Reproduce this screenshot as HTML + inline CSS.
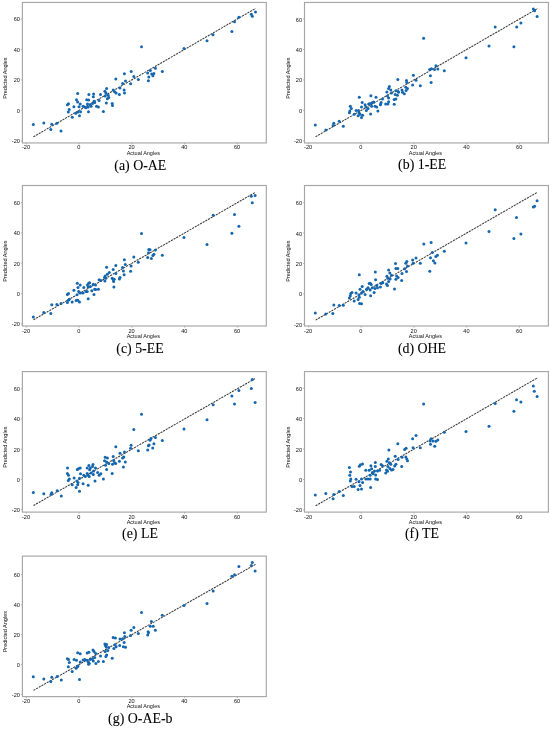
<!DOCTYPE html><html><head><meta charset="utf-8"><style>html,body{margin:0;padding:0;background:#fff;}svg{display:block;}</style></head><body>
<svg width="550" height="729" viewBox="0 0 550 729">
<rect width="550" height="729" fill="#fff"/>
<g><line x1="33.48" y1="136.76" x2="255.56" y2="8.43" stroke="#3a3a3a" stroke-width="1.05" stroke-dasharray="2.15 0.9"/><g fill="#1466ae"><circle cx="33.3" cy="124.5" r="1.5"/><circle cx="43.8" cy="122.9" r="1.5"/><circle cx="51.8" cy="124.2" r="1.5"/><circle cx="50.8" cy="129.5" r="1.5"/><circle cx="56.9" cy="123.3" r="1.5"/><circle cx="61.0" cy="131.0" r="1.5"/><circle cx="72.3" cy="117.3" r="1.5"/><circle cx="68.3" cy="112.1" r="1.5"/><circle cx="69.2" cy="109.6" r="1.5"/><circle cx="67.4" cy="104.8" r="1.5"/><circle cx="68.5" cy="103.8" r="1.5"/><circle cx="73.9" cy="106.7" r="1.5"/><circle cx="77.7" cy="93.5" r="1.5"/><circle cx="76.5" cy="99.7" r="1.5"/><circle cx="77.6" cy="101.9" r="1.5"/><circle cx="80.2" cy="104.1" r="1.5"/><circle cx="79.0" cy="106.7" r="1.5"/><circle cx="75.8" cy="113.3" r="1.5"/><circle cx="78.0" cy="112.1" r="1.5"/><circle cx="79.5" cy="115.7" r="1.5"/><circle cx="80.6" cy="111.8" r="1.5"/><circle cx="83.1" cy="106.3" r="1.5"/><circle cx="84.8" cy="107.0" r="1.5"/><circle cx="86.7" cy="99.7" r="1.5"/><circle cx="88.9" cy="94.6" r="1.5"/><circle cx="88.6" cy="100.0" r="1.5"/><circle cx="87.5" cy="104.1" r="1.5"/><circle cx="88.2" cy="107.0" r="1.5"/><circle cx="90.1" cy="104.8" r="1.5"/><circle cx="91.1" cy="106.3" r="1.5"/><circle cx="88.5" cy="111.7" r="1.5"/><circle cx="93.6" cy="93.9" r="1.5"/><circle cx="93.3" cy="96.8" r="1.5"/><circle cx="94.0" cy="101.2" r="1.5"/><circle cx="92.5" cy="103.4" r="1.5"/><circle cx="94.7" cy="102.6" r="1.5"/><circle cx="96.5" cy="106.3" r="1.5"/><circle cx="98.4" cy="107.0" r="1.5"/><circle cx="99.1" cy="100.5" r="1.5"/><circle cx="100.5" cy="94.6" r="1.5"/><circle cx="86.0" cy="107.7" r="1.5"/><circle cx="141.5" cy="46.7" r="1.5"/><circle cx="162.3" cy="71.6" r="1.5"/><circle cx="155.4" cy="68.3" r="1.5"/><circle cx="150.3" cy="70.5" r="1.5"/><circle cx="147.7" cy="72.9" r="1.5"/><circle cx="151.7" cy="74.1" r="1.5"/><circle cx="153.9" cy="73.4" r="1.5"/><circle cx="152.9" cy="75.8" r="1.5"/><circle cx="148.8" cy="77.0" r="1.5"/><circle cx="148.4" cy="80.8" r="1.5"/><circle cx="138.3" cy="79.5" r="1.5"/><circle cx="133.8" cy="76.6" r="1.5"/><circle cx="131.2" cy="71.6" r="1.5"/><circle cx="124.4" cy="73.7" r="1.5"/><circle cx="115.8" cy="78.9" r="1.5"/><circle cx="125.5" cy="81.1" r="1.5"/><circle cx="122.6" cy="83.5" r="1.5"/><circle cx="130.6" cy="83.8" r="1.5"/><circle cx="120.0" cy="87.9" r="1.5"/><circle cx="124.1" cy="90.1" r="1.5"/><circle cx="124.5" cy="93.0" r="1.5"/><circle cx="119.4" cy="94.5" r="1.5"/><circle cx="113.2" cy="90.1" r="1.5"/><circle cx="114.6" cy="91.8" r="1.5"/><circle cx="116.1" cy="93.0" r="1.5"/><circle cx="106.6" cy="88.6" r="1.5"/><circle cx="104.9" cy="91.3" r="1.5"/><circle cx="105.9" cy="93.0" r="1.5"/><circle cx="105.2" cy="95.9" r="1.5"/><circle cx="108.1" cy="95.2" r="1.5"/><circle cx="108.8" cy="97.4" r="1.5"/><circle cx="107.4" cy="98.8" r="1.5"/><circle cx="106.3" cy="102.9" r="1.5"/><circle cx="112.2" cy="103.6" r="1.5"/><circle cx="103.4" cy="111.5" r="1.5"/><circle cx="112.5" cy="105.4" r="1.5"/><circle cx="184.0" cy="48.4" r="1.5"/><circle cx="207.0" cy="40.7" r="1.5"/><circle cx="213.0" cy="34.8" r="1.5"/><circle cx="231.9" cy="31.6" r="1.5"/><circle cx="234.5" cy="21.8" r="1.5"/><circle cx="238.9" cy="17.3" r="1.5"/><circle cx="251.3" cy="14.3" r="1.5"/><circle cx="252.3" cy="16.3" r="1.5"/><circle cx="255.5" cy="12.0" r="1.5"/></g><rect x="22.4" y="2.45" width="243.9" height="140.5" fill="none" stroke="#a6a6a6" stroke-width="1.15"/><path d="M26.36 142.95v1.5M20.90 140.87h1.5M79.11 142.95v1.5M20.90 110.39h1.5M131.86 142.95v1.5M20.90 79.91h1.5M184.61 142.95v1.5M20.90 49.43h1.5M237.36 142.95v1.5M20.90 18.95h1.5" stroke="#a6a6a6" stroke-width="0.8"/><g font-family="Liberation Sans, sans-serif" font-size="5.6" fill="#111"><text x="26.06" y="149.45" text-anchor="middle">-20</text><text x="19.90" y="143.37" text-anchor="end">-20</text><text x="78.81" y="149.45" text-anchor="middle">0</text><text x="19.90" y="112.89" text-anchor="end">0</text><text x="131.56" y="149.45" text-anchor="middle">20</text><text x="19.90" y="82.41" text-anchor="end">20</text><text x="184.31" y="149.45" text-anchor="middle">40</text><text x="19.90" y="51.93" text-anchor="end">40</text><text x="237.06" y="149.45" text-anchor="middle">60</text><text x="19.90" y="21.45" text-anchor="end">60</text></g><text x="143.30" y="154.55" text-anchor="middle" font-family="Liberation Sans, sans-serif" font-size="5.5" fill="#111">Actual Angles</text><text transform="translate(7.40 78.05) rotate(-90)" x="0" y="0" text-anchor="middle" font-family="Liberation Sans, sans-serif" font-size="5.5" fill="#111">Predicted Angles</text><text x="140.30" y="169.50" text-anchor="middle" font-family="Liberation Serif, serif" font-size="13.9" fill="#000" stroke="#000" stroke-width="0.08">(a) O-AE</text></g>
<g><line x1="315.58" y1="136.74" x2="537.65" y2="8.50" stroke="#3a3a3a" stroke-width="1.05" stroke-dasharray="2.15 0.9"/><g fill="#1466ae"><circle cx="315.3" cy="124.9" r="1.5"/><circle cx="325.8" cy="130.0" r="1.5"/><circle cx="333.8" cy="123.3" r="1.5"/><circle cx="333.1" cy="125.6" r="1.5"/><circle cx="339.2" cy="121.3" r="1.5"/><circle cx="343.3" cy="126.3" r="1.5"/><circle cx="350.3" cy="106.3" r="1.5"/><circle cx="351.3" cy="108.5" r="1.5"/><circle cx="349.8" cy="110.9" r="1.5"/><circle cx="349.4" cy="112.8" r="1.5"/><circle cx="354.2" cy="114.3" r="1.5"/><circle cx="356.1" cy="110.6" r="1.5"/><circle cx="358.5" cy="110.6" r="1.5"/><circle cx="359.3" cy="97.3" r="1.5"/><circle cx="362.2" cy="102.6" r="1.5"/><circle cx="361.5" cy="107.0" r="1.5"/><circle cx="359.0" cy="112.8" r="1.5"/><circle cx="360.0" cy="114.3" r="1.5"/><circle cx="358.1" cy="115.7" r="1.5"/><circle cx="362.6" cy="115.3" r="1.5"/><circle cx="361.5" cy="117.6" r="1.5"/><circle cx="365.1" cy="104.8" r="1.5"/><circle cx="365.8" cy="107.0" r="1.5"/><circle cx="366.3" cy="110.6" r="1.5"/><circle cx="368.0" cy="108.5" r="1.5"/><circle cx="368.7" cy="104.1" r="1.5"/><circle cx="370.2" cy="103.4" r="1.5"/><circle cx="370.9" cy="95.8" r="1.5"/><circle cx="370.6" cy="114.0" r="1.5"/><circle cx="371.6" cy="106.3" r="1.5"/><circle cx="372.4" cy="102.6" r="1.5"/><circle cx="373.8" cy="101.9" r="1.5"/><circle cx="375.0" cy="106.3" r="1.5"/><circle cx="376.0" cy="97.3" r="1.5"/><circle cx="376.7" cy="107.0" r="1.5"/><circle cx="377.9" cy="110.9" r="1.5"/><circle cx="380.4" cy="104.8" r="1.5"/><circle cx="381.1" cy="102.6" r="1.5"/><circle cx="382.5" cy="99.0" r="1.5"/><circle cx="444.3" cy="70.7" r="1.5"/><circle cx="435.9" cy="65.8" r="1.5"/><circle cx="437.8" cy="69.0" r="1.5"/><circle cx="434.5" cy="69.4" r="1.5"/><circle cx="431.5" cy="68.7" r="1.5"/><circle cx="429.7" cy="69.4" r="1.5"/><circle cx="430.4" cy="75.8" r="1.5"/><circle cx="431.1" cy="82.5" r="1.5"/><circle cx="420.3" cy="85.7" r="1.5"/><circle cx="413.4" cy="75.3" r="1.5"/><circle cx="416.0" cy="80.2" r="1.5"/><circle cx="412.6" cy="84.9" r="1.5"/><circle cx="397.8" cy="79.5" r="1.5"/><circle cx="406.5" cy="80.6" r="1.5"/><circle cx="406.8" cy="82.4" r="1.5"/><circle cx="405.8" cy="87.2" r="1.5"/><circle cx="407.5" cy="88.6" r="1.5"/><circle cx="406.1" cy="90.4" r="1.5"/><circle cx="402.0" cy="90.1" r="1.5"/><circle cx="402.5" cy="92.3" r="1.5"/><circle cx="404.3" cy="93.7" r="1.5"/><circle cx="398.1" cy="91.5" r="1.5"/><circle cx="395.9" cy="90.8" r="1.5"/><circle cx="395.2" cy="94.5" r="1.5"/><circle cx="397.4" cy="95.2" r="1.5"/><circle cx="389.4" cy="86.5" r="1.5"/><circle cx="388.6" cy="88.6" r="1.5"/><circle cx="390.8" cy="90.1" r="1.5"/><circle cx="386.9" cy="92.0" r="1.5"/><circle cx="391.5" cy="93.0" r="1.5"/><circle cx="387.5" cy="95.9" r="1.5"/><circle cx="388.6" cy="98.1" r="1.5"/><circle cx="394.2" cy="99.5" r="1.5"/><circle cx="395.9" cy="99.1" r="1.5"/><circle cx="388.6" cy="101.7" r="1.5"/><circle cx="385.7" cy="103.9" r="1.5"/><circle cx="394.2" cy="104.3" r="1.5"/><circle cx="380.6" cy="103.9" r="1.5"/><circle cx="387.9" cy="103.9" r="1.5"/><circle cx="398.5" cy="92.3" r="1.5"/><circle cx="466.0" cy="57.7" r="1.5"/><circle cx="489.0" cy="46.0" r="1.5"/><circle cx="495.2" cy="27.1" r="1.5"/><circle cx="513.9" cy="46.7" r="1.5"/><circle cx="516.7" cy="26.9" r="1.5"/><circle cx="520.9" cy="23.1" r="1.5"/><circle cx="533.3" cy="9.0" r="1.5"/><circle cx="534.6" cy="10.7" r="1.5"/><circle cx="537.1" cy="16.5" r="1.5"/><circle cx="423.6" cy="38.3" r="1.5"/></g><rect x="304.5" y="2.45" width="243.9" height="140.5" fill="none" stroke="#a6a6a6" stroke-width="1.15"/><path d="M308.46 142.95v1.5M303.00 140.85h1.5M361.21 142.95v1.5M303.00 110.39h1.5M413.96 142.95v1.5M303.00 79.93h1.5M466.71 142.95v1.5M303.00 49.47h1.5M519.46 142.95v1.5M303.00 19.01h1.5" stroke="#a6a6a6" stroke-width="0.8"/><g font-family="Liberation Sans, sans-serif" font-size="5.6" fill="#111"><text x="308.16" y="149.45" text-anchor="middle">-20</text><text x="302.00" y="143.35" text-anchor="end">-20</text><text x="360.91" y="149.45" text-anchor="middle">0</text><text x="302.00" y="112.89" text-anchor="end">0</text><text x="413.66" y="149.45" text-anchor="middle">20</text><text x="302.00" y="82.43" text-anchor="end">20</text><text x="466.41" y="149.45" text-anchor="middle">40</text><text x="302.00" y="51.97" text-anchor="end">40</text><text x="519.16" y="149.45" text-anchor="middle">60</text><text x="302.00" y="21.51" text-anchor="end">60</text></g><text x="425.40" y="154.55" text-anchor="middle" font-family="Liberation Sans, sans-serif" font-size="5.5" fill="#111">Actual Angles</text><text transform="translate(289.50 78.05) rotate(-90)" x="0" y="0" text-anchor="middle" font-family="Liberation Sans, sans-serif" font-size="5.5" fill="#111">Predicted Angles</text><text x="422.20" y="169.30" text-anchor="middle" font-family="Liberation Serif, serif" font-size="13.9" fill="#000" stroke="#000" stroke-width="0.08">(b) 1-EE</text></g>
<g><line x1="33.48" y1="319.83" x2="255.56" y2="192.18" stroke="#3a3a3a" stroke-width="1.05" stroke-dasharray="2.15 0.9"/><g fill="#1466ae"><circle cx="33.3" cy="316.9" r="1.5"/><circle cx="43.8" cy="312.5" r="1.5"/><circle cx="50.8" cy="313.6" r="1.5"/><circle cx="51.8" cy="304.8" r="1.5"/><circle cx="56.9" cy="304.5" r="1.5"/><circle cx="61.0" cy="303.4" r="1.5"/><circle cx="67.4" cy="294.4" r="1.5"/><circle cx="68.5" cy="293.6" r="1.5"/><circle cx="68.3" cy="300.2" r="1.5"/><circle cx="67.4" cy="302.4" r="1.5"/><circle cx="69.3" cy="299.2" r="1.5"/><circle cx="72.2" cy="302.1" r="1.5"/><circle cx="73.9" cy="290.3" r="1.5"/><circle cx="77.3" cy="283.2" r="1.5"/><circle cx="78.0" cy="287.5" r="1.5"/><circle cx="77.0" cy="294.8" r="1.5"/><circle cx="76.1" cy="300.6" r="1.5"/><circle cx="77.7" cy="300.2" r="1.5"/><circle cx="79.5" cy="302.1" r="1.5"/><circle cx="80.2" cy="284.9" r="1.5"/><circle cx="78.7" cy="291.5" r="1.5"/><circle cx="80.5" cy="292.9" r="1.5"/><circle cx="83.8" cy="287.5" r="1.5"/><circle cx="83.1" cy="292.9" r="1.5"/><circle cx="86.0" cy="291.5" r="1.5"/><circle cx="87.2" cy="291.5" r="1.5"/><circle cx="87.5" cy="284.9" r="1.5"/><circle cx="88.6" cy="283.2" r="1.5"/><circle cx="89.6" cy="282.7" r="1.5"/><circle cx="88.2" cy="287.1" r="1.5"/><circle cx="90.4" cy="286.4" r="1.5"/><circle cx="88.2" cy="298.7" r="1.5"/><circle cx="91.8" cy="290.7" r="1.5"/><circle cx="93.3" cy="284.2" r="1.5"/><circle cx="94.0" cy="294.4" r="1.5"/><circle cx="94.7" cy="289.3" r="1.5"/><circle cx="95.5" cy="284.9" r="1.5"/><circle cx="98.4" cy="289.3" r="1.5"/><circle cx="99.1" cy="279.8" r="1.5"/><circle cx="100.8" cy="280.5" r="1.5"/><circle cx="141.5" cy="233.4" r="1.5"/><circle cx="162.3" cy="255.3" r="1.5"/><circle cx="155.4" cy="250.1" r="1.5"/><circle cx="148.8" cy="249.5" r="1.5"/><circle cx="150.0" cy="249.8" r="1.5"/><circle cx="148.5" cy="252.7" r="1.5"/><circle cx="153.9" cy="254.2" r="1.5"/><circle cx="152.9" cy="255.6" r="1.5"/><circle cx="147.7" cy="257.5" r="1.5"/><circle cx="151.4" cy="258.5" r="1.5"/><circle cx="138.3" cy="262.2" r="1.5"/><circle cx="133.8" cy="257.1" r="1.5"/><circle cx="124.4" cy="259.7" r="1.5"/><circle cx="125.3" cy="264.4" r="1.5"/><circle cx="131.1" cy="266.1" r="1.5"/><circle cx="130.6" cy="271.3" r="1.5"/><circle cx="115.8" cy="265.4" r="1.5"/><circle cx="106.6" cy="267.3" r="1.5"/><circle cx="113.2" cy="269.5" r="1.5"/><circle cx="122.6" cy="267.6" r="1.5"/><circle cx="123.4" cy="270.9" r="1.5"/><circle cx="124.1" cy="274.8" r="1.5"/><circle cx="115.8" cy="273.4" r="1.5"/><circle cx="120.0" cy="277.5" r="1.5"/><circle cx="119.4" cy="278.9" r="1.5"/><circle cx="109.3" cy="272.4" r="1.5"/><circle cx="107.4" cy="274.3" r="1.5"/><circle cx="105.2" cy="276.0" r="1.5"/><circle cx="104.5" cy="277.5" r="1.5"/><circle cx="105.9" cy="278.2" r="1.5"/><circle cx="112.2" cy="278.2" r="1.5"/><circle cx="113.2" cy="279.6" r="1.5"/><circle cx="114.2" cy="279.2" r="1.5"/><circle cx="113.6" cy="281.5" r="1.5"/><circle cx="104.9" cy="281.1" r="1.5"/><circle cx="113.9" cy="286.9" r="1.5"/><circle cx="95.7" cy="289.5" r="1.5"/><circle cx="184.0" cy="237.6" r="1.5"/><circle cx="207.0" cy="244.4" r="1.5"/><circle cx="213.2" cy="215.2" r="1.5"/><circle cx="231.9" cy="233.3" r="1.5"/><circle cx="234.5" cy="214.4" r="1.5"/><circle cx="238.9" cy="226.3" r="1.5"/><circle cx="251.3" cy="196.3" r="1.5"/><circle cx="252.3" cy="202.7" r="1.5"/><circle cx="255.1" cy="195.6" r="1.5"/></g><rect x="22.4" y="185.5" width="243.9" height="140.5" fill="none" stroke="#a6a6a6" stroke-width="1.15"/><path d="M26.36 326.00v1.5M20.90 323.92h1.5M79.11 326.00v1.5M20.90 293.60h1.5M131.86 326.00v1.5M20.90 263.28h1.5M184.61 326.00v1.5M20.90 232.96h1.5M237.36 326.00v1.5M20.90 202.64h1.5" stroke="#a6a6a6" stroke-width="0.8"/><g font-family="Liberation Sans, sans-serif" font-size="5.6" fill="#111"><text x="26.06" y="332.50" text-anchor="middle">-20</text><text x="19.90" y="326.42" text-anchor="end">-20</text><text x="78.81" y="332.50" text-anchor="middle">0</text><text x="19.90" y="296.10" text-anchor="end">0</text><text x="131.56" y="332.50" text-anchor="middle">20</text><text x="19.90" y="265.78" text-anchor="end">20</text><text x="184.31" y="332.50" text-anchor="middle">40</text><text x="19.90" y="235.46" text-anchor="end">40</text><text x="237.06" y="332.50" text-anchor="middle">60</text><text x="19.90" y="205.14" text-anchor="end">60</text></g><text x="143.30" y="337.60" text-anchor="middle" font-family="Liberation Sans, sans-serif" font-size="5.5" fill="#111">Actual Angles</text><text transform="translate(7.40 261.10) rotate(-90)" x="0" y="0" text-anchor="middle" font-family="Liberation Sans, sans-serif" font-size="5.5" fill="#111">Predicted Angles</text><text x="140.00" y="353.30" text-anchor="middle" font-family="Liberation Serif, serif" font-size="13.9" fill="#000" stroke="#000" stroke-width="0.08">(c) 5-EE</text></g>
<g><line x1="315.58" y1="320.10" x2="537.65" y2="192.11" stroke="#3a3a3a" stroke-width="1.05" stroke-dasharray="2.15 0.9"/><g fill="#1466ae"><circle cx="315.3" cy="313.0" r="1.5"/><circle cx="325.8" cy="314.0" r="1.5"/><circle cx="332.8" cy="313.6" r="1.5"/><circle cx="333.8" cy="305.0" r="1.5"/><circle cx="339.2" cy="305.6" r="1.5"/><circle cx="343.3" cy="305.3" r="1.5"/><circle cx="349.4" cy="298.0" r="1.5"/><circle cx="350.3" cy="295.8" r="1.5"/><circle cx="350.8" cy="293.6" r="1.5"/><circle cx="352.0" cy="292.5" r="1.5"/><circle cx="356.1" cy="292.9" r="1.5"/><circle cx="354.2" cy="300.9" r="1.5"/><circle cx="358.1" cy="299.5" r="1.5"/><circle cx="359.3" cy="297.3" r="1.5"/><circle cx="359.0" cy="294.8" r="1.5"/><circle cx="359.6" cy="303.5" r="1.5"/><circle cx="361.5" cy="303.8" r="1.5"/><circle cx="359.3" cy="274.7" r="1.5"/><circle cx="360.0" cy="289.3" r="1.5"/><circle cx="362.2" cy="286.4" r="1.5"/><circle cx="361.5" cy="292.9" r="1.5"/><circle cx="362.9" cy="291.5" r="1.5"/><circle cx="365.1" cy="294.4" r="1.5"/><circle cx="366.5" cy="289.3" r="1.5"/><circle cx="368.0" cy="287.8" r="1.5"/><circle cx="369.2" cy="283.5" r="1.5"/><circle cx="370.2" cy="283.2" r="1.5"/><circle cx="371.2" cy="284.6" r="1.5"/><circle cx="370.2" cy="290.0" r="1.5"/><circle cx="370.6" cy="295.8" r="1.5"/><circle cx="372.4" cy="287.8" r="1.5"/><circle cx="374.1" cy="292.5" r="1.5"/><circle cx="375.3" cy="272.1" r="1.5"/><circle cx="375.6" cy="279.8" r="1.5"/><circle cx="375.0" cy="288.5" r="1.5"/><circle cx="376.7" cy="285.6" r="1.5"/><circle cx="377.5" cy="287.8" r="1.5"/><circle cx="380.4" cy="287.1" r="1.5"/><circle cx="381.1" cy="283.5" r="1.5"/><circle cx="382.8" cy="282.7" r="1.5"/><circle cx="423.8" cy="244.0" r="1.5"/><circle cx="431.1" cy="242.5" r="1.5"/><circle cx="444.3" cy="251.3" r="1.5"/><circle cx="432.3" cy="252.4" r="1.5"/><circle cx="430.5" cy="257.8" r="1.5"/><circle cx="435.9" cy="256.4" r="1.5"/><circle cx="437.4" cy="255.3" r="1.5"/><circle cx="433.4" cy="260.7" r="1.5"/><circle cx="434.9" cy="262.9" r="1.5"/><circle cx="429.8" cy="271.3" r="1.5"/><circle cx="420.3" cy="263.2" r="1.5"/><circle cx="416.0" cy="258.1" r="1.5"/><circle cx="412.6" cy="260.0" r="1.5"/><circle cx="413.1" cy="263.3" r="1.5"/><circle cx="406.8" cy="261.5" r="1.5"/><circle cx="405.8" cy="263.2" r="1.5"/><circle cx="407.5" cy="266.1" r="1.5"/><circle cx="404.6" cy="268.7" r="1.5"/><circle cx="406.5" cy="271.6" r="1.5"/><circle cx="402.0" cy="273.4" r="1.5"/><circle cx="401.7" cy="280.4" r="1.5"/><circle cx="395.5" cy="263.6" r="1.5"/><circle cx="395.9" cy="268.4" r="1.5"/><circle cx="397.8" cy="268.4" r="1.5"/><circle cx="388.6" cy="269.9" r="1.5"/><circle cx="389.8" cy="273.1" r="1.5"/><circle cx="391.5" cy="275.3" r="1.5"/><circle cx="396.6" cy="276.0" r="1.5"/><circle cx="398.1" cy="277.5" r="1.5"/><circle cx="395.9" cy="279.2" r="1.5"/><circle cx="386.9" cy="276.3" r="1.5"/><circle cx="387.9" cy="278.2" r="1.5"/><circle cx="390.1" cy="278.9" r="1.5"/><circle cx="388.6" cy="281.5" r="1.5"/><circle cx="386.5" cy="284.0" r="1.5"/><circle cx="387.5" cy="285.5" r="1.5"/><circle cx="394.5" cy="289.1" r="1.5"/><circle cx="466.0" cy="242.9" r="1.5"/><circle cx="489.0" cy="231.4" r="1.5"/><circle cx="495.2" cy="209.7" r="1.5"/><circle cx="513.9" cy="238.4" r="1.5"/><circle cx="516.5" cy="217.6" r="1.5"/><circle cx="520.9" cy="234.1" r="1.5"/><circle cx="533.3" cy="206.9" r="1.5"/><circle cx="534.6" cy="206.3" r="1.5"/><circle cx="537.1" cy="200.7" r="1.5"/></g><rect x="304.5" y="185.5" width="243.9" height="140.5" fill="none" stroke="#a6a6a6" stroke-width="1.15"/><path d="M308.46 326.00v1.5M303.00 324.20h1.5M361.21 326.00v1.5M303.00 293.80h1.5M413.96 326.00v1.5M303.00 263.40h1.5M466.71 326.00v1.5M303.00 233.00h1.5M519.46 326.00v1.5M303.00 202.60h1.5" stroke="#a6a6a6" stroke-width="0.8"/><g font-family="Liberation Sans, sans-serif" font-size="5.6" fill="#111"><text x="308.16" y="332.50" text-anchor="middle">-20</text><text x="302.00" y="326.70" text-anchor="end">-20</text><text x="360.91" y="332.50" text-anchor="middle">0</text><text x="302.00" y="296.30" text-anchor="end">0</text><text x="413.66" y="332.50" text-anchor="middle">20</text><text x="302.00" y="265.90" text-anchor="end">20</text><text x="466.41" y="332.50" text-anchor="middle">40</text><text x="302.00" y="235.50" text-anchor="end">40</text><text x="519.16" y="332.50" text-anchor="middle">60</text><text x="302.00" y="205.10" text-anchor="end">60</text></g><text x="425.40" y="337.60" text-anchor="middle" font-family="Liberation Sans, sans-serif" font-size="5.5" fill="#111">Actual Angles</text><text transform="translate(289.50 261.10) rotate(-90)" x="0" y="0" text-anchor="middle" font-family="Liberation Sans, sans-serif" font-size="5.5" fill="#111">Predicted Angles</text><text x="422.00" y="353.30" text-anchor="middle" font-family="Liberation Serif, serif" font-size="13.9" fill="#000" stroke="#000" stroke-width="0.08">(d) OHE</text></g>
<g><line x1="33.48" y1="505.54" x2="255.56" y2="378.31" stroke="#3a3a3a" stroke-width="1.05" stroke-dasharray="2.15 0.9"/><g fill="#1466ae"><circle cx="33.3" cy="492.4" r="1.5"/><circle cx="43.8" cy="493.7" r="1.5"/><circle cx="51.1" cy="494.2" r="1.5"/><circle cx="51.8" cy="492.8" r="1.5"/><circle cx="57.2" cy="490.8" r="1.5"/><circle cx="61.3" cy="496.1" r="1.5"/><circle cx="67.5" cy="468.0" r="1.5"/><circle cx="67.4" cy="473.5" r="1.5"/><circle cx="68.5" cy="475.3" r="1.5"/><circle cx="69.3" cy="478.9" r="1.5"/><circle cx="68.3" cy="480.4" r="1.5"/><circle cx="72.2" cy="484.7" r="1.5"/><circle cx="74.1" cy="477.9" r="1.5"/><circle cx="76.1" cy="487.6" r="1.5"/><circle cx="77.3" cy="469.5" r="1.5"/><circle cx="78.4" cy="468.7" r="1.5"/><circle cx="80.2" cy="468.0" r="1.5"/><circle cx="77.0" cy="481.1" r="1.5"/><circle cx="78.0" cy="482.5" r="1.5"/><circle cx="77.7" cy="484.7" r="1.5"/><circle cx="79.5" cy="491.3" r="1.5"/><circle cx="79.5" cy="478.2" r="1.5"/><circle cx="80.5" cy="473.8" r="1.5"/><circle cx="83.1" cy="483.7" r="1.5"/><circle cx="83.8" cy="475.3" r="1.5"/><circle cx="85.3" cy="476.4" r="1.5"/><circle cx="87.2" cy="468.0" r="1.5"/><circle cx="87.2" cy="473.5" r="1.5"/><circle cx="88.2" cy="475.3" r="1.5"/><circle cx="88.9" cy="465.4" r="1.5"/><circle cx="89.6" cy="469.7" r="1.5"/><circle cx="90.4" cy="468.0" r="1.5"/><circle cx="89.2" cy="476.4" r="1.5"/><circle cx="88.2" cy="485.2" r="1.5"/><circle cx="91.1" cy="473.1" r="1.5"/><circle cx="93.0" cy="464.4" r="1.5"/><circle cx="92.5" cy="466.5" r="1.5"/><circle cx="93.6" cy="470.9" r="1.5"/><circle cx="93.3" cy="474.5" r="1.5"/><circle cx="95.5" cy="468.0" r="1.5"/><circle cx="95.0" cy="481.1" r="1.5"/><circle cx="97.6" cy="472.4" r="1.5"/><circle cx="99.1" cy="475.3" r="1.5"/><circle cx="100.8" cy="473.8" r="1.5"/><circle cx="141.5" cy="414.3" r="1.5"/><circle cx="133.8" cy="429.6" r="1.5"/><circle cx="162.3" cy="440.5" r="1.5"/><circle cx="155.4" cy="437.6" r="1.5"/><circle cx="151.0" cy="438.4" r="1.5"/><circle cx="150.0" cy="440.2" r="1.5"/><circle cx="149.1" cy="445.0" r="1.5"/><circle cx="148.4" cy="445.7" r="1.5"/><circle cx="153.9" cy="443.8" r="1.5"/><circle cx="152.7" cy="447.9" r="1.5"/><circle cx="147.7" cy="449.9" r="1.5"/><circle cx="138.3" cy="450.7" r="1.5"/><circle cx="131.1" cy="445.3" r="1.5"/><circle cx="130.6" cy="448.2" r="1.5"/><circle cx="115.8" cy="446.7" r="1.5"/><circle cx="120.0" cy="453.3" r="1.5"/><circle cx="124.5" cy="452.1" r="1.5"/><circle cx="123.8" cy="456.9" r="1.5"/><circle cx="122.6" cy="458.1" r="1.5"/><circle cx="125.3" cy="462.0" r="1.5"/><circle cx="123.4" cy="467.1" r="1.5"/><circle cx="119.4" cy="461.3" r="1.5"/><circle cx="113.2" cy="456.6" r="1.5"/><circle cx="113.6" cy="460.5" r="1.5"/><circle cx="114.6" cy="462.7" r="1.5"/><circle cx="112.5" cy="464.2" r="1.5"/><circle cx="115.7" cy="463.5" r="1.5"/><circle cx="105.2" cy="457.2" r="1.5"/><circle cx="107.4" cy="457.9" r="1.5"/><circle cx="104.5" cy="460.8" r="1.5"/><circle cx="106.6" cy="462.0" r="1.5"/><circle cx="108.8" cy="463.5" r="1.5"/><circle cx="105.5" cy="465.2" r="1.5"/><circle cx="106.6" cy="469.6" r="1.5"/><circle cx="112.2" cy="473.6" r="1.5"/><circle cx="103.4" cy="479.0" r="1.5"/><circle cx="184.0" cy="428.9" r="1.5"/><circle cx="207.0" cy="419.7" r="1.5"/><circle cx="213.2" cy="404.8" r="1.5"/><circle cx="231.9" cy="395.9" r="1.5"/><circle cx="234.5" cy="404.0" r="1.5"/><circle cx="238.9" cy="390.4" r="1.5"/><circle cx="251.3" cy="388.4" r="1.5"/><circle cx="252.3" cy="379.5" r="1.5"/><circle cx="255.1" cy="402.5" r="1.5"/></g><rect x="22.4" y="371.6" width="243.9" height="140.5" fill="none" stroke="#a6a6a6" stroke-width="1.15"/><path d="M26.36 512.10v1.5M20.90 509.62h1.5M79.11 512.10v1.5M20.90 479.40h1.5M131.86 512.10v1.5M20.90 449.18h1.5M184.61 512.10v1.5M20.90 418.96h1.5M237.36 512.10v1.5M20.90 388.74h1.5" stroke="#a6a6a6" stroke-width="0.8"/><g font-family="Liberation Sans, sans-serif" font-size="5.6" fill="#111"><text x="26.06" y="518.60" text-anchor="middle">-20</text><text x="19.90" y="512.12" text-anchor="end">-20</text><text x="78.81" y="518.60" text-anchor="middle">0</text><text x="19.90" y="481.90" text-anchor="end">0</text><text x="131.56" y="518.60" text-anchor="middle">20</text><text x="19.90" y="451.68" text-anchor="end">20</text><text x="184.31" y="518.60" text-anchor="middle">40</text><text x="19.90" y="421.46" text-anchor="end">40</text><text x="237.06" y="518.60" text-anchor="middle">60</text><text x="19.90" y="391.24" text-anchor="end">60</text></g><text x="143.30" y="523.70" text-anchor="middle" font-family="Liberation Sans, sans-serif" font-size="5.5" fill="#111">Actual Angles</text><text transform="translate(7.40 447.20) rotate(-90)" x="0" y="0" text-anchor="middle" font-family="Liberation Sans, sans-serif" font-size="5.5" fill="#111">Predicted Angles</text><text x="140.00" y="538.30" text-anchor="middle" font-family="Liberation Serif, serif" font-size="13.9" fill="#000" stroke="#000" stroke-width="0.08">(e) LE</text></g>
<g><line x1="315.58" y1="505.81" x2="537.65" y2="377.75" stroke="#3a3a3a" stroke-width="1.05" stroke-dasharray="2.15 0.9"/><g fill="#1466ae"><circle cx="315.3" cy="495.1" r="1.5"/><circle cx="325.8" cy="493.5" r="1.5"/><circle cx="333.1" cy="498.8" r="1.5"/><circle cx="333.8" cy="494.6" r="1.5"/><circle cx="339.2" cy="491.6" r="1.5"/><circle cx="343.3" cy="495.6" r="1.5"/><circle cx="349.4" cy="467.6" r="1.5"/><circle cx="350.5" cy="472.1" r="1.5"/><circle cx="349.8" cy="475.3" r="1.5"/><circle cx="350.8" cy="478.9" r="1.5"/><circle cx="350.3" cy="481.1" r="1.5"/><circle cx="352.0" cy="486.5" r="1.5"/><circle cx="354.2" cy="486.6" r="1.5"/><circle cx="356.1" cy="479.3" r="1.5"/><circle cx="358.1" cy="489.5" r="1.5"/><circle cx="359.3" cy="466.3" r="1.5"/><circle cx="360.4" cy="464.8" r="1.5"/><circle cx="362.5" cy="463.9" r="1.5"/><circle cx="359.0" cy="481.8" r="1.5"/><circle cx="360.0" cy="485.5" r="1.5"/><circle cx="361.5" cy="489.1" r="1.5"/><circle cx="361.5" cy="478.9" r="1.5"/><circle cx="362.6" cy="482.5" r="1.5"/><circle cx="365.8" cy="470.2" r="1.5"/><circle cx="365.8" cy="478.9" r="1.5"/><circle cx="368.0" cy="478.9" r="1.5"/><circle cx="369.2" cy="470.2" r="1.5"/><circle cx="370.2" cy="478.9" r="1.5"/><circle cx="370.2" cy="475.3" r="1.5"/><circle cx="370.6" cy="487.6" r="1.5"/><circle cx="370.9" cy="465.8" r="1.5"/><circle cx="371.6" cy="468.7" r="1.5"/><circle cx="372.4" cy="472.4" r="1.5"/><circle cx="373.1" cy="473.8" r="1.5"/><circle cx="374.5" cy="470.9" r="1.5"/><circle cx="375.3" cy="462.5" r="1.5"/><circle cx="375.3" cy="466.5" r="1.5"/><circle cx="375.6" cy="475.0" r="1.5"/><circle cx="375.6" cy="478.9" r="1.5"/><circle cx="377.5" cy="479.6" r="1.5"/><circle cx="377.5" cy="470.9" r="1.5"/><circle cx="379.6" cy="470.2" r="1.5"/><circle cx="381.1" cy="464.4" r="1.5"/><circle cx="382.5" cy="465.8" r="1.5"/><circle cx="444.3" cy="432.2" r="1.5"/><circle cx="437.8" cy="439.9" r="1.5"/><circle cx="435.9" cy="441.3" r="1.5"/><circle cx="433.0" cy="440.9" r="1.5"/><circle cx="431.1" cy="438.7" r="1.5"/><circle cx="430.1" cy="440.9" r="1.5"/><circle cx="430.5" cy="444.3" r="1.5"/><circle cx="434.7" cy="446.3" r="1.5"/><circle cx="416.0" cy="435.4" r="1.5"/><circle cx="412.6" cy="438.7" r="1.5"/><circle cx="413.1" cy="447.7" r="1.5"/><circle cx="420.3" cy="447.7" r="1.5"/><circle cx="397.8" cy="443.8" r="1.5"/><circle cx="406.1" cy="448.2" r="1.5"/><circle cx="404.6" cy="449.6" r="1.5"/><circle cx="388.9" cy="449.9" r="1.5"/><circle cx="395.2" cy="456.2" r="1.5"/><circle cx="402.0" cy="457.3" r="1.5"/><circle cx="405.8" cy="456.9" r="1.5"/><circle cx="406.8" cy="459.1" r="1.5"/><circle cx="407.5" cy="460.8" r="1.5"/><circle cx="398.1" cy="459.4" r="1.5"/><circle cx="388.3" cy="459.1" r="1.5"/><circle cx="386.9" cy="461.3" r="1.5"/><circle cx="389.4" cy="462.7" r="1.5"/><circle cx="390.8" cy="464.2" r="1.5"/><circle cx="395.9" cy="464.2" r="1.5"/><circle cx="394.7" cy="466.1" r="1.5"/><circle cx="401.7" cy="466.4" r="1.5"/><circle cx="387.9" cy="466.4" r="1.5"/><circle cx="389.8" cy="468.5" r="1.5"/><circle cx="386.5" cy="470.0" r="1.5"/><circle cx="393.0" cy="469.6" r="1.5"/><circle cx="385.7" cy="472.9" r="1.5"/><circle cx="387.5" cy="471.2" r="1.5"/><circle cx="391.5" cy="470.0" r="1.5"/><circle cx="466.0" cy="431.4" r="1.5"/><circle cx="489.0" cy="426.3" r="1.5"/><circle cx="495.2" cy="403.6" r="1.5"/><circle cx="513.9" cy="411.2" r="1.5"/><circle cx="516.5" cy="399.7" r="1.5"/><circle cx="520.9" cy="402.1" r="1.5"/><circle cx="533.3" cy="386.1" r="1.5"/><circle cx="534.3" cy="391.2" r="1.5"/><circle cx="537.1" cy="396.5" r="1.5"/><circle cx="423.6" cy="404.0" r="1.5"/></g><rect x="304.5" y="371.6" width="243.9" height="140.5" fill="none" stroke="#a6a6a6" stroke-width="1.15"/><path d="M308.46 512.10v1.5M303.00 509.92h1.5M361.21 512.10v1.5M303.00 479.50h1.5M413.96 512.10v1.5M303.00 449.08h1.5M466.71 512.10v1.5M303.00 418.66h1.5M519.46 512.10v1.5M303.00 388.24h1.5" stroke="#a6a6a6" stroke-width="0.8"/><g font-family="Liberation Sans, sans-serif" font-size="5.6" fill="#111"><text x="308.16" y="518.60" text-anchor="middle">-20</text><text x="302.00" y="512.42" text-anchor="end">-20</text><text x="360.91" y="518.60" text-anchor="middle">0</text><text x="302.00" y="482.00" text-anchor="end">0</text><text x="413.66" y="518.60" text-anchor="middle">20</text><text x="302.00" y="451.58" text-anchor="end">20</text><text x="466.41" y="518.60" text-anchor="middle">40</text><text x="302.00" y="421.16" text-anchor="end">40</text><text x="519.16" y="518.60" text-anchor="middle">60</text><text x="302.00" y="390.74" text-anchor="end">60</text></g><text x="425.40" y="523.70" text-anchor="middle" font-family="Liberation Sans, sans-serif" font-size="5.5" fill="#111">Actual Angles</text><text transform="translate(289.50 447.20) rotate(-90)" x="0" y="0" text-anchor="middle" font-family="Liberation Sans, sans-serif" font-size="5.5" fill="#111">Predicted Angles</text><text x="422.00" y="538.30" text-anchor="middle" font-family="Liberation Serif, serif" font-size="13.9" fill="#000" stroke="#000" stroke-width="0.08">(f) TE</text></g>
<g><line x1="33.48" y1="690.40" x2="255.56" y2="564.35" stroke="#3a3a3a" stroke-width="1.05" stroke-dasharray="2.15 0.9"/><g fill="#1466ae"><circle cx="33.3" cy="676.7" r="1.5"/><circle cx="43.8" cy="678.9" r="1.5"/><circle cx="50.8" cy="681.4" r="1.5"/><circle cx="51.8" cy="677.3" r="1.5"/><circle cx="57.2" cy="676.6" r="1.5"/><circle cx="61.3" cy="679.9" r="1.5"/><circle cx="67.4" cy="658.8" r="1.5"/><circle cx="68.5" cy="659.5" r="1.5"/><circle cx="69.3" cy="662.5" r="1.5"/><circle cx="68.3" cy="666.8" r="1.5"/><circle cx="72.2" cy="671.5" r="1.5"/><circle cx="74.1" cy="659.5" r="1.5"/><circle cx="76.1" cy="668.3" r="1.5"/><circle cx="77.3" cy="666.8" r="1.5"/><circle cx="77.7" cy="652.7" r="1.5"/><circle cx="80.2" cy="653.7" r="1.5"/><circle cx="78.0" cy="666.1" r="1.5"/><circle cx="76.5" cy="660.3" r="1.5"/><circle cx="79.5" cy="679.6" r="1.5"/><circle cx="80.2" cy="662.0" r="1.5"/><circle cx="83.1" cy="660.0" r="1.5"/><circle cx="84.8" cy="659.5" r="1.5"/><circle cx="87.2" cy="653.0" r="1.5"/><circle cx="88.9" cy="652.3" r="1.5"/><circle cx="87.2" cy="660.3" r="1.5"/><circle cx="88.2" cy="662.0" r="1.5"/><circle cx="88.6" cy="664.3" r="1.5"/><circle cx="90.4" cy="659.5" r="1.5"/><circle cx="89.2" cy="663.2" r="1.5"/><circle cx="93.0" cy="650.1" r="1.5"/><circle cx="94.0" cy="651.5" r="1.5"/><circle cx="92.5" cy="658.8" r="1.5"/><circle cx="93.3" cy="661.0" r="1.5"/><circle cx="94.7" cy="657.4" r="1.5"/><circle cx="95.9" cy="663.5" r="1.5"/><circle cx="98.4" cy="661.4" r="1.5"/><circle cx="100.5" cy="655.9" r="1.5"/><circle cx="141.5" cy="612.4" r="1.5"/><circle cx="162.3" cy="615.3" r="1.5"/><circle cx="151.4" cy="621.5" r="1.5"/><circle cx="150.3" cy="626.3" r="1.5"/><circle cx="153.2" cy="626.3" r="1.5"/><circle cx="155.4" cy="630.3" r="1.5"/><circle cx="148.1" cy="631.7" r="1.5"/><circle cx="148.5" cy="632.7" r="1.5"/><circle cx="147.7" cy="635.1" r="1.5"/><circle cx="138.3" cy="633.6" r="1.5"/><circle cx="133.8" cy="627.4" r="1.5"/><circle cx="131.1" cy="630.3" r="1.5"/><circle cx="130.6" cy="635.4" r="1.5"/><circle cx="124.4" cy="632.7" r="1.5"/><circle cx="124.8" cy="636.5" r="1.5"/><circle cx="122.6" cy="638.7" r="1.5"/><circle cx="120.0" cy="639.0" r="1.5"/><circle cx="113.2" cy="637.5" r="1.5"/><circle cx="115.4" cy="638.0" r="1.5"/><circle cx="124.1" cy="642.6" r="1.5"/><circle cx="123.4" cy="646.7" r="1.5"/><circle cx="125.5" cy="647.3" r="1.5"/><circle cx="119.7" cy="645.5" r="1.5"/><circle cx="115.1" cy="644.8" r="1.5"/><circle cx="116.1" cy="646.7" r="1.5"/><circle cx="113.9" cy="648.5" r="1.5"/><circle cx="104.9" cy="644.1" r="1.5"/><circle cx="106.6" cy="644.4" r="1.5"/><circle cx="105.5" cy="645.8" r="1.5"/><circle cx="106.3" cy="647.0" r="1.5"/><circle cx="108.8" cy="647.4" r="1.5"/><circle cx="107.8" cy="650.6" r="1.5"/><circle cx="105.2" cy="651.4" r="1.5"/><circle cx="106.6" cy="655.0" r="1.5"/><circle cx="105.9" cy="656.5" r="1.5"/><circle cx="95.7" cy="653.5" r="1.5"/><circle cx="112.2" cy="658.3" r="1.5"/><circle cx="103.4" cy="661.5" r="1.5"/><circle cx="184.0" cy="605.4" r="1.5"/><circle cx="207.0" cy="603.4" r="1.5"/><circle cx="213.2" cy="591.1" r="1.5"/><circle cx="231.9" cy="576.2" r="1.5"/><circle cx="234.5" cy="574.7" r="1.5"/><circle cx="238.9" cy="566.6" r="1.5"/><circle cx="251.3" cy="565.6" r="1.5"/><circle cx="252.3" cy="562.4" r="1.5"/><circle cx="255.1" cy="570.9" r="1.5"/></g><rect x="22.4" y="556.1" width="243.9" height="140.5" fill="none" stroke="#a6a6a6" stroke-width="1.15"/><path d="M26.36 696.60v1.5M20.90 694.44h1.5M79.11 696.60v1.5M20.90 664.50h1.5M131.86 696.60v1.5M20.90 634.56h1.5M184.61 696.60v1.5M20.90 604.62h1.5M237.36 696.60v1.5M20.90 574.68h1.5" stroke="#a6a6a6" stroke-width="0.8"/><g font-family="Liberation Sans, sans-serif" font-size="5.6" fill="#111"><text x="26.06" y="703.10" text-anchor="middle">-20</text><text x="19.90" y="696.94" text-anchor="end">-20</text><text x="78.81" y="703.10" text-anchor="middle">0</text><text x="19.90" y="667.00" text-anchor="end">0</text><text x="131.56" y="703.10" text-anchor="middle">20</text><text x="19.90" y="637.06" text-anchor="end">20</text><text x="184.31" y="703.10" text-anchor="middle">40</text><text x="19.90" y="607.12" text-anchor="end">40</text><text x="237.06" y="703.10" text-anchor="middle">60</text><text x="19.90" y="577.18" text-anchor="end">60</text></g><text x="143.30" y="708.20" text-anchor="middle" font-family="Liberation Sans, sans-serif" font-size="5.5" fill="#111">Actual Angles</text><text transform="translate(7.40 631.70) rotate(-90)" x="0" y="0" text-anchor="middle" font-family="Liberation Sans, sans-serif" font-size="5.5" fill="#111">Predicted Angles</text><text x="140.30" y="722.90" text-anchor="middle" font-family="Liberation Serif, serif" font-size="13.9" fill="#000" stroke="#000" stroke-width="0.08">(g) O-AE-b</text></g>
</svg></body></html>
